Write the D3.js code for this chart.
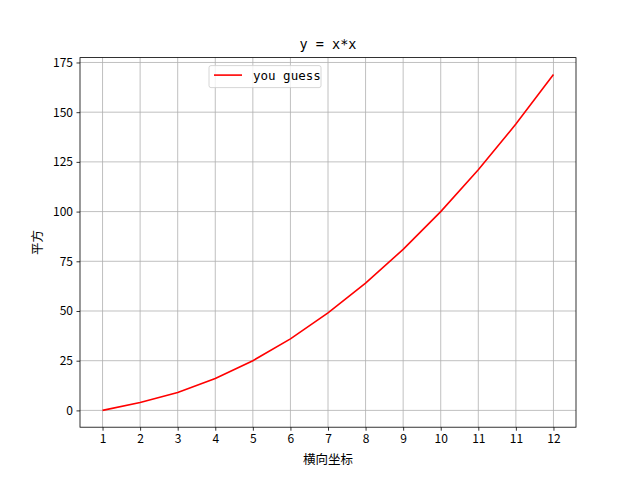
<!DOCTYPE html>
<html>
<head>
<meta charset="utf-8">
<script src="https://cdn.jsdelivr.net/npm/d3@7"></script>
<style>
  body { margin: 0; background: #fff; }
  text { font-family: "Noto Sans CJK SC", "DejaVu Sans", sans-serif; }
</style>
</head>
<body>
<div id="chart"></div>
<script>
// data
const xLabels = ["1", "2", "3", "4", "5", "6", "7", "8", "9", "10", "11", "11", "12"];
const yValues = [0, 4, 9, 16, 25, 36, 49, 64, 81, 100, 121, 144, 169];
const yTicks = [0, 25, 50, 75, 100, 125, 150, 175];
const seriesName = "you guess";

const width = 640;
const height = 480;
const margin = { top: 57.6, bottom: 52.8, left: 80, right: 64 };

const svg = d3.select("#chart")
  .append("svg")
  .attr("width", width)
  .attr("height", height);

const idx = d3.range(yValues.length);

// x scale with matplotlib-like 5% padding
const x = d3.scaleLinear()
  .domain([-0.6, idx.length - 1 + 0.6])
  .range([margin.left, width - margin.right]);

const yMax = d3.max(yValues);
const y = d3.scaleLinear()
  .domain([-yMax * 0.05, yMax * 1.05])
  .range([height - margin.bottom, margin.top]);

// grid
svg.append("g")
  .selectAll("line")
  .data(idx)
  .join("line")
  .attr("x1", d => x(d)).attr("x2", d => x(d))
  .attr("y1", margin.top).attr("y2", height - margin.bottom)
  .attr("stroke", "#b0b0b0").attr("stroke-width", 0.8);

svg.append("g")
  .selectAll("line")
  .data(yTicks)
  .join("line")
  .attr("x1", margin.left).attr("x2", width - margin.right)
  .attr("y1", d => y(d)).attr("y2", d => y(d))
  .attr("stroke", "#b0b0b0").attr("stroke-width", 0.8);

// line
svg.append("path")
  .datum(idx)
  .attr("fill", "none")
  .attr("stroke", "red")
  .attr("stroke-width", 1.6)
  .attr("d", d3.line().x(i => x(i)).y(i => y(yValues[i])));

// axes
const xAxis = svg.append("g")
  .attr("transform", `translate(0,${height - margin.bottom})`)
  .call(d3.axisBottom(x).tickValues(idx).tickFormat(i => xLabels[i]).tickSize(3.5).tickPadding(3.5).tickSizeOuter(0));

const yAxis = svg.append("g")
  .attr("transform", `translate(${margin.left},0)`)
  .call(d3.axisLeft(y).tickValues(yTicks).tickSize(3.5).tickPadding(3.5).tickSizeOuter(0));

[xAxis, yAxis].forEach(g => {
  g.select(".domain").remove();
  g.selectAll("text").attr("font-size", "12px").attr("fill", "#000")
    .style("font-family", '"Noto Sans CJK SC", "DejaVu Sans", sans-serif');
  g.selectAll("line").attr("stroke", "#000").attr("stroke-width", 0.8);
});

// frame
svg.append("rect")
  .attr("x", margin.left).attr("y", margin.top)
  .attr("width", width - margin.left - margin.right)
  .attr("height", height - margin.top - margin.bottom)
  .attr("fill", "none").attr("stroke", "#000").attr("stroke-width", 0.8);

// title and labels
svg.append("text")
  .attr("x", (margin.left + width - margin.right) / 2)
  .attr("y", margin.top - 9)
  .attr("text-anchor", "middle")
  .attr("font-size", "13.5px")
  .style("white-space", "pre")
  .style("font-family", '"DejaVu Sans Mono", "Liberation Mono", monospace')
  .text("y = x*x");

svg.append("text")
  .attr("x", (margin.left + width - margin.right) / 2)
  .attr("y", 464)
  .attr("text-anchor", "middle")
  .attr("font-size", "12.5px")
  .text("横向坐标");

svg.append("text")
  .attr("transform", `translate(42, ${(margin.top + height - margin.bottom) / 2}) rotate(-90)`)
  .attr("text-anchor", "middle")
  .attr("font-size", "12.5px")
  .text("平方");

// legend
const legend = svg.append("g")
  .attr("transform", `translate(${margin.left + 129}, ${margin.top + 8})`);

legend.append("rect")
  .attr("width", 112).attr("height", 22)
  .attr("rx", 2)
  .attr("fill", "#fff").attr("fill-opacity", 0.8)
  .attr("stroke", "#cccccc").attr("stroke-width", 0.8);

legend.append("line")
  .attr("x1", 5).attr("x2", 33)
  .attr("y1", 9.5).attr("y2", 9.5)
  .attr("stroke", "red").attr("stroke-width", 1.6);

legend.append("text")
  .attr("x", 44).attr("y", 14)
  .attr("font-size", "12.5px")
  .style("font-family", '"DejaVu Sans Mono", "Liberation Mono", monospace')
  .text(seriesName);
</script>
</body>
</html>
